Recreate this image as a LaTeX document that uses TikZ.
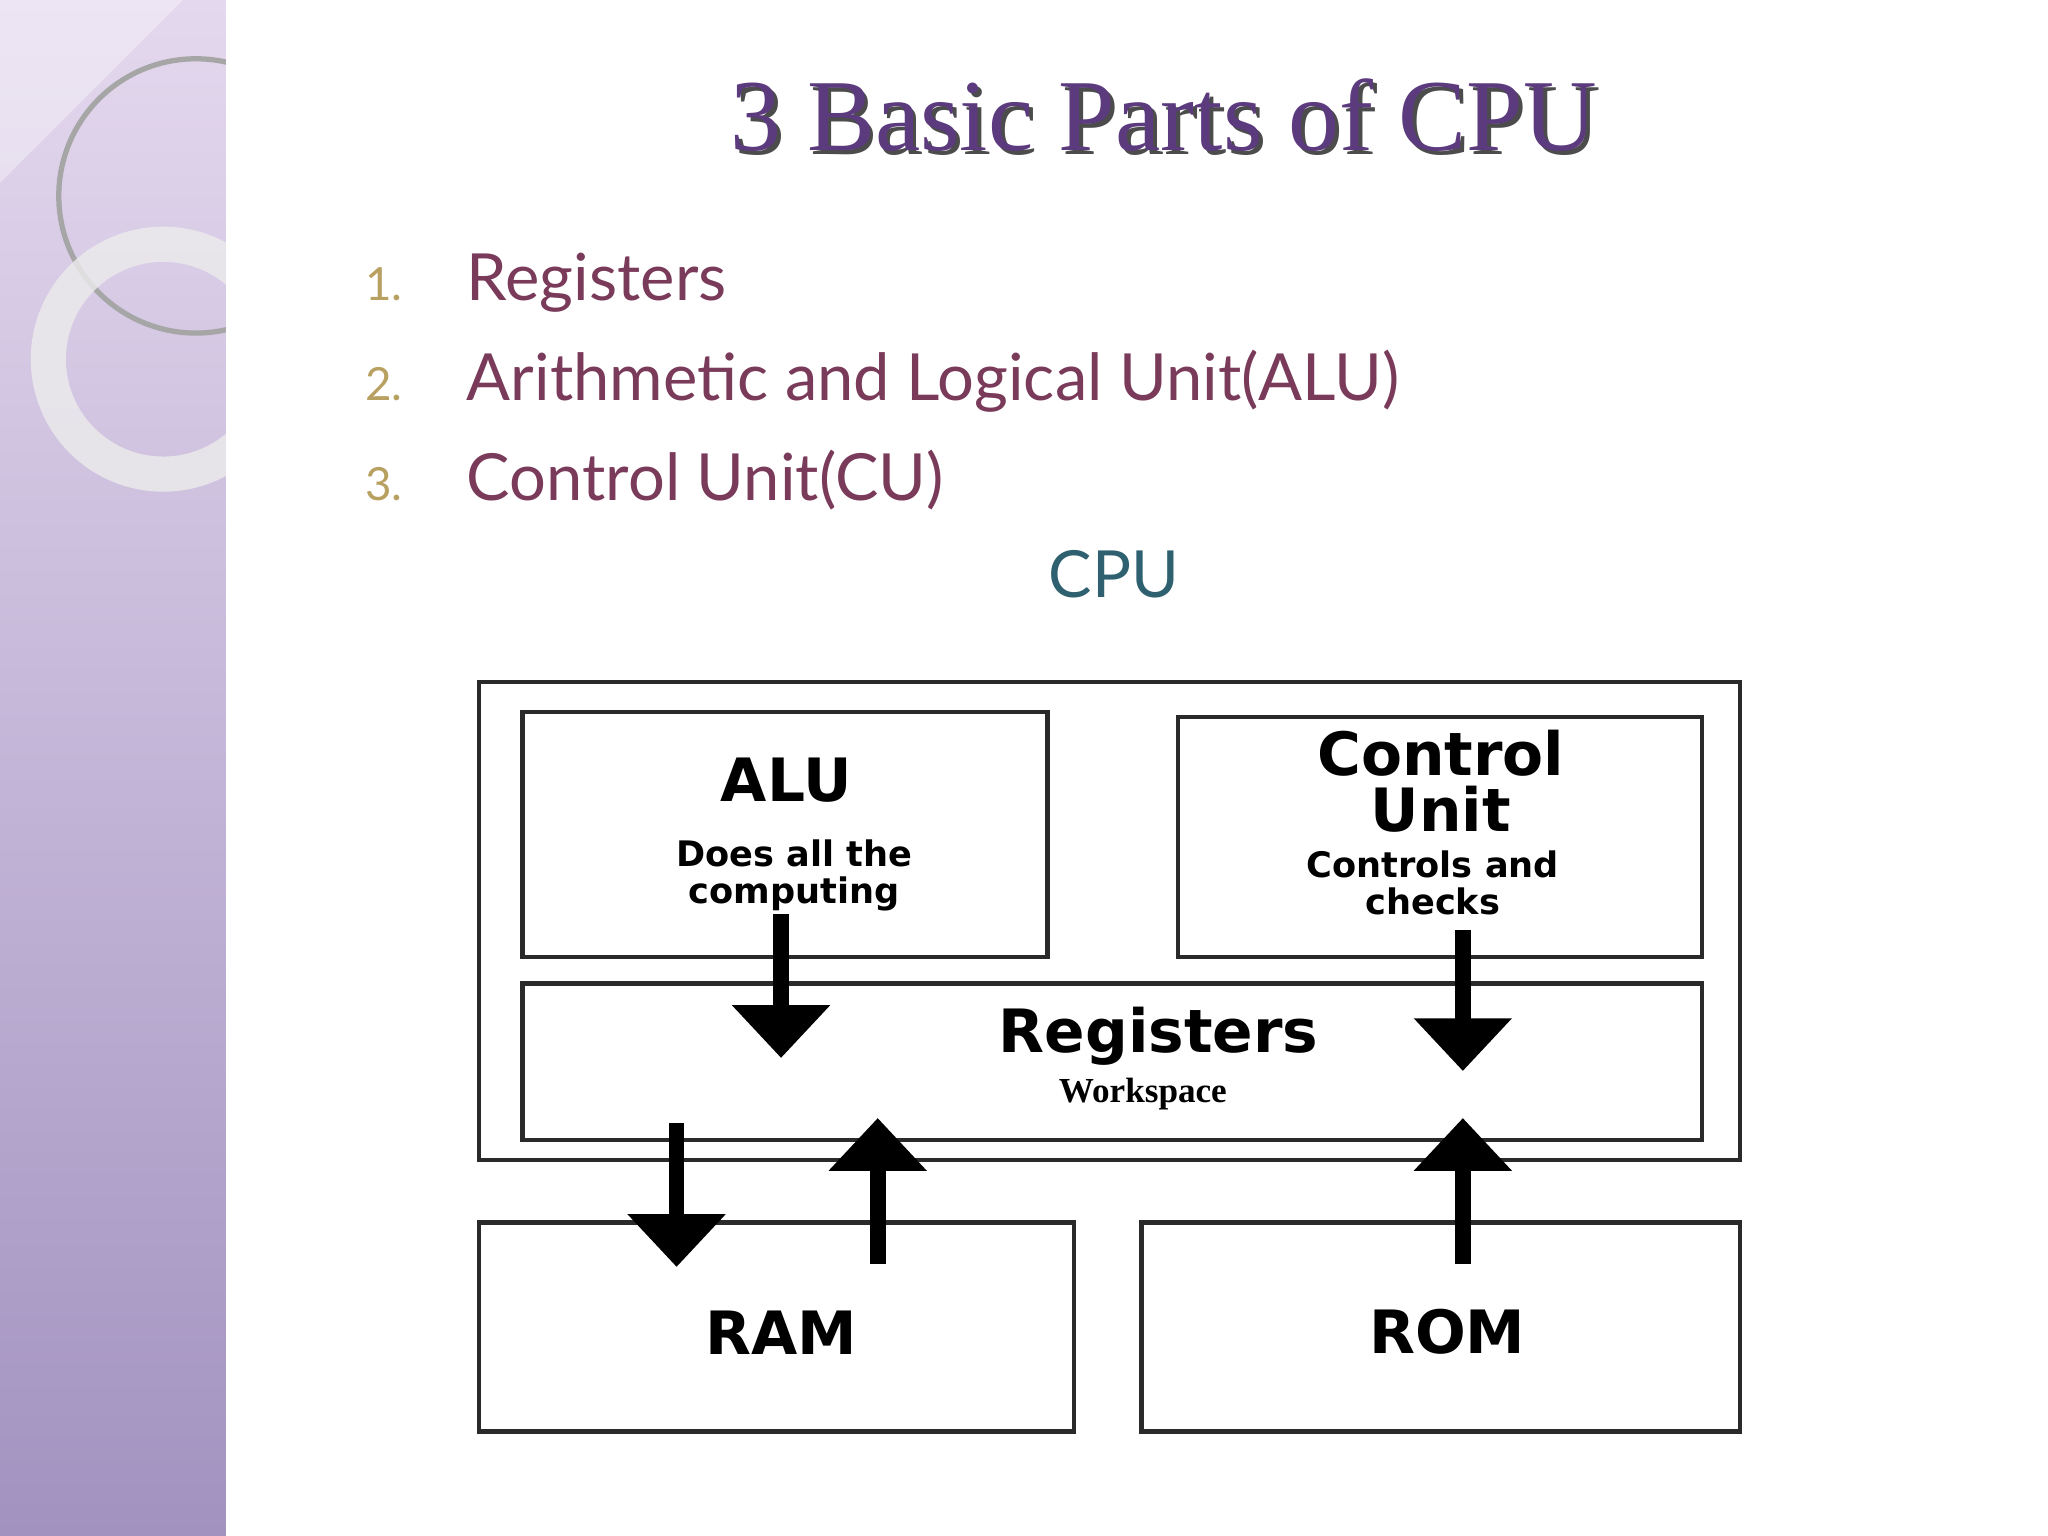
\documentclass[tikz,border=0pt]{standalone}
\usepackage{fontspec}
\setmainfont{Liberation Serif}
\newfontfamily\listfont{Lato}
\newfontfamily\boxfont{DejaVu Sans}
\usetikzlibrary{arrows.meta}
\definecolor{titlecol}{HTML}{5C3A7E}
\definecolor{numcol}{HTML}{B8A060}
\definecolor{itemcol}{HTML}{7A3A5A}
\definecolor{cpucol}{HTML}{2E6070}
\definecolor{striptop}{HTML}{E4D8EE}
\definecolor{stripbot}{HTML}{A292C0}
\definecolor{boxline}{HTML}{2A2A2A}
\begin{document}
\begin{tikzpicture}[x=0.013061cm,y=-0.013061cm,
  box/.style={draw=boxline,line width=1.2pt},
  fat/.style={line width=4.5pt,-{Triangle[length=15pt,width=27pt]}},
  big/.style={font=\boxfont\bfseries\fontsize{17}{17}\selectfont},
  small/.style={font=\boxfont\bfseries\fontsize{10}{10.5}\selectfont,align=center},
  item/.style={anchor=base west,text=itemcol,font=\listfont\fontsize{18.5}{19}\selectfont},
  num/.style={anchor=base west,text=numcol,font=\listfont\fontsize{13}{13}\selectfont}]
\useasboundingbox (0,0) rectangle (1568,1176);
\fill[white] (0,0) rectangle (1568,1176);
% left strip
\shade[top color=striptop,bottom color=stripbot] (0,0) rectangle (173,1176);
\fill[white,opacity=0.35] (0,0) -- (140,0) -- (0,140) -- cycle;
\begin{scope}
\clip (0,0) rectangle (173,1176);
\draw[gray!70,line width=1.5pt] (150,150) circle (105);
\draw[white!85!gray,line width=10pt,opacity=0.8] (125,275) circle (88);
\end{scope}
% title
\node[text=black!70,font=\fontsize{29}{29}\selectfont] at (894,91) {3 Basic Parts of CPU};
\node[text=titlecol,font=\fontsize{29}{29}\selectfont] (title) at (891,88) {3 Basic Parts of CPU};
% list
\node[num] (n1) at (270,230) {1.};
\node[item] (i1) at (348,230) {Registers};
\node[num] (n2) at (270,307) {2.};
\node[item] (i2) at (348,307) {Arithmetic and Logical Unit(ALU)};
\node[num] (n3) at (270,383) {3.};
\node[item] (i3) at (348,383) {Control Unit(CU)};
\node[text=cpucol,font=\listfont\fontsize{18.5}{19}\selectfont] (cpu) at (853,440) {CPU};
% diagram boxes
\draw[box] (367,522) rectangle (1332,888);
\draw[box] (400,545) rectangle (802,733);
\draw[box] (902,549) rectangle (1303,733);
\draw[box] (400,753) rectangle (1303,873);
\draw[box] (367,936) rectangle (822,1096);
\draw[box] (874,936) rectangle (1332,1096);
% labels
\node[big] (alu) at (602,597) {ALU};
\node[small] (alud) at (608,670) {Does all the\\computing};
\node[big,align=center] (cu) at (1103,598) {Control\\[-1pt]Unit};
\node[small] (cud) at (1097,676) {Controls and\\checks};
\node[big] (reg) at (887,793) {Registers};
\node[font=\bfseries\fontsize{10}{10}\selectfont] (ws) at (875,838) {Workspace};
\node[big] (ram) at (598,1020) {RAM};
\node[big] (rom) at (1108,1020) {ROM};
% arrows
\coordinate (a1) at (598,700); \coordinate (a2) at (598,810);
\coordinate (b1) at (1120,712); \coordinate (b2) at (1120,820);
\coordinate (c1) at (518,860); \coordinate (c2) at (518,970);
\coordinate (d1) at (672,968); \coordinate (d2) at (672,856);
\coordinate (e1) at (1120,968); \coordinate (e2) at (1120,856);
\draw[fat] (a1) -- (a2);
\draw[fat] (b1) -- (b2);
\draw[fat] (c1) -- (c2);
\draw[fat] (d1) -- (d2);
\draw[fat] (e1) -- (e2);
\end{tikzpicture}
\end{document}
